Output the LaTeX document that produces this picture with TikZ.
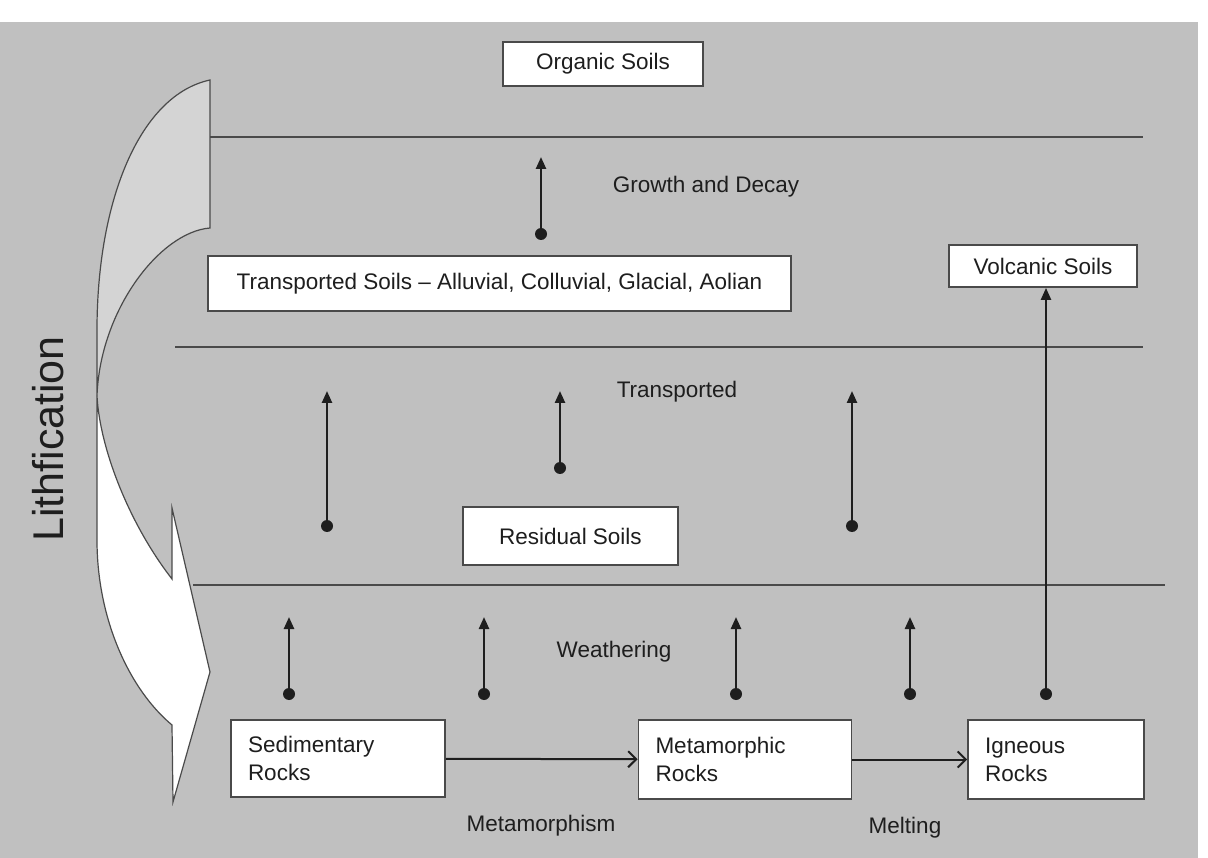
\documentclass[tikz,border=0pt]{standalone}
\usepackage{fontspec}
\setmainfont{Liberation Sans}
\usetikzlibrary{positioning, arrows.meta, calc}
\definecolor{cPage}  {HTML}{C0C0C0}
\definecolor{cPale}  {HTML}{D4D4D4}
\definecolor{cEdge}  {HTML}{4A4A4A}
\definecolor{cInk}   {HTML}{1E1E1E}

\begin{document}
\begin{tikzpicture}[x=1pt, y=-1pt,
    every node/.style={font=\fontsize{22.5}{28}\selectfont, text=cInk},
    soilbox/.style={draw=cEdge, line width=1.8pt, fill=white, inner sep=0pt},
    rockbox/.style={soilbox, align=left, inner xsep=17pt, minimum height=79pt},
    dot/.style={circle, fill=cInk, minimum size=12pt, inner sep=0pt},
    uparrow/.style={-{Triangle[length=12pt, width=10pt]}, line width=2.4pt, draw=cInk},
    flow/.style={-{Straight Barb[length=8pt, width=16pt]}, line width=2pt, draw=cInk},
    layer/.style={draw=cEdge, line width=1.4pt},
  ]
  \useasboundingbox (0,0) rectangle (1208,858);
  \fill[white] (0,0) rectangle (1208,858);
  \fill[cPage] (0,22) rectangle (1198,858);

  % lithification band
  \draw[cEdge, line width=1.2pt, fill=cPale]
    (210,80) .. controls (140,95) and (97,200) .. (97,330) -- (97,396)
    .. controls (100,310) and (160,232) .. (210,228) -- cycle;
  \draw[cEdge, line width=1.2pt, fill=white]
    (97,396) -- (97,540) .. controls (97,620) and (130,690) .. (172,725)
    -- (173,802) -- (210,672) -- (172,508) -- (172,579)
    .. controls (130,525) and (100,450) .. (97,396) -- cycle;
  \node[rotate=90, font=\fontsize{43}{50}\selectfont] (lith) at (48,439) {Lithfication};

  \draw[layer] (210,137) -- (1143,137);
  \draw[layer] (175,347) -- (1143,347);
  \draw[layer] (193,585) -- (1165,585);

  \node[soilbox, minimum width=200pt, minimum height=44pt] (organic) at (603,64) {Organic Soils};
  \node[soilbox, minimum width=583pt, minimum height=55pt] (transported) at (499.5,283.5)
    {Transported Soils -- Alluvial, Colluvial, Glacial, Aolian};
  \node[soilbox, minimum width=188pt, minimum height=42pt] (volcanic) at (1043,266) {Volcanic Soils};
  \node[soilbox, minimum width=215pt, minimum height=58pt] (residual) at (570.5,536) {Residual Soils};

  \node[rockbox, text width=180pt, minimum height=77pt] (sedimentary) at (338,758.5) {Sedimentary\\Rocks};
  \node[rockbox, text width=179pt] (metamorphic) at (745,759.5) {Metamorphic\\Rocks};
  \node[rockbox, text width=142pt] (igneous) at (1056,759.5) {Igneous\\Rocks};

  \node (growth) at (706,187) {Growth and Decay};
  \node (transp) at (677,392) {Transported};
  \node (weath) at (614,652) {Weathering};
  \node (metam) at (541,826) {Metamorphism};
  \node (melt) at (905,828) {Melting};

  \draw[flow] (sedimentary) -- (metamorphic);
  \draw[flow] (metamorphic) -- (igneous);

  \node[dot] (gd) at (541,234) {};
  \coordinate (gt) at (541,157);
  \draw[uparrow] (gd.center) -- (gt);

  \foreach \px/\py [count=\i] in {327/526, 560/468, 852/526} {
    \node[dot] (td\i) at (\px,\py) {};
    \coordinate (tt\i) at (\px,391);
    \draw[uparrow] (td\i.center) -- (tt\i);
  }

  \foreach \px [count=\i] in {289, 484, 736, 910} {
    \node[dot] (wd\i) at (\px,694) {};
    \coordinate (wt\i) at (\px,617);
    \draw[uparrow] (wd\i.center) -- (wt\i);
  }

  \node[dot] (vd) at (1046,694) {};
  \draw[uparrow] (vd.center) -- (vd |- volcanic.south);
\end{tikzpicture}
\end{document}
